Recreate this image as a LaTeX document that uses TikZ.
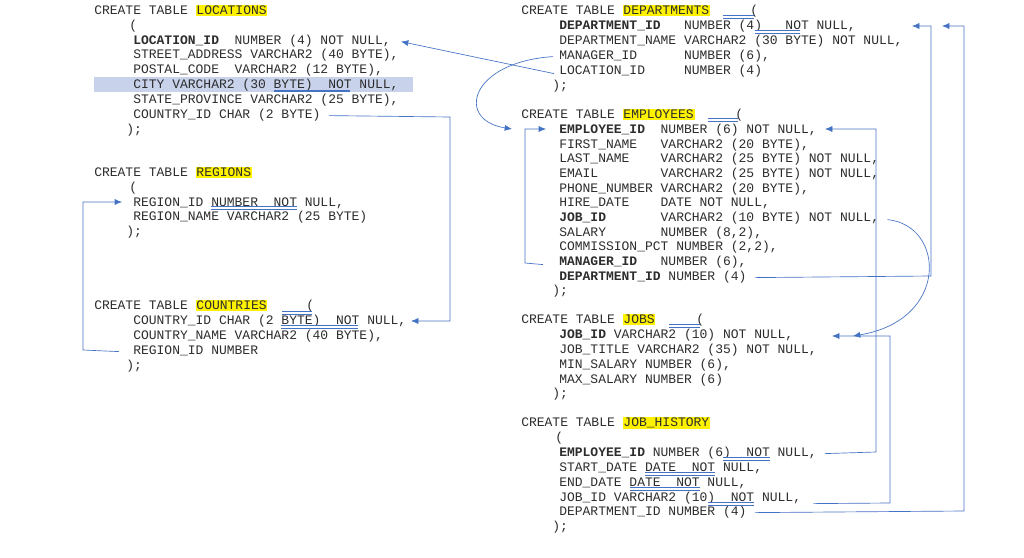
\documentclass[tikz,border=0pt]{standalone}
\usepackage{fontspec}
\setmonofont{Liberation Mono}
\usetikzlibrary{arrows.meta,calc}
\definecolor{lnk}{RGB}{68,114,196}
\definecolor{txt}{RGB}{45,45,45}
\definecolor{band}{RGB}{200,210,235}
\newcommand\hy[1]{{\setlength\fboxsep{0.6pt}\colorbox{yellow}{#1}}}
\newcommand\sqlb[1]{\textbf{#1}}
\tikzset{
 t/.style={anchor=west,inner sep=0pt,yshift=-1.2pt,text height=7pt,text depth=2pt,text=txt,font=\ttfamily\fontsize{9.75}{12}\selectfont},
 con/.style={draw=lnk,line width=0.5pt},
 arr/.style={con,-{Latex[length=5.5pt,width=4.5pt]}},
 dbl/.style={draw=lnk,line width=0.6pt,double=white,double distance=1.4pt},
}
\begin{document}
\begin{tikzpicture}[x=0.75pt,y=-0.75pt]
\useasboundingbox (0,0) rectangle (1024,557);
\fill[white] (0,0) rectangle (1024,557);
\fill[band] (94,77) rectangle (413,92);
% LOCATIONS
\node[t] (loc0) at (94,10) {CREATE~TABLE~\hy{LOCATIONS}};
\node[t] (loc1) at (129,25) {(};
\node[t] (loc2) at (133,40) {\sqlb{LOCATION\_ID}~~NUMBER~(4)~NOT~NULL,};
\node[t] (loc3) at (133,54) {STREET\_ADDRESS~VARCHAR2~(40~BYTE),};
\node[t] (loc4) at (133,69) {POSTAL\_CODE~~VARCHAR2~(12~BYTE),};
\node[t] (loc5) at (133,84) {CITY~VARCHAR2~(30~BYTE)~~NOT~NULL,};
\node[t] (loc6) at (133,99) {STATE\_PROVINCE~VARCHAR2~(25~BYTE),};
\node[t] (loc7) at (133,114) {COUNTRY\_ID~CHAR~(2~BYTE)};
\node[t] (loc8) at (126,129) {);};
% REGIONS
\node[t] (reg0) at (94,172) {CREATE~TABLE~\hy{REGIONS}};
\node[t] (reg1) at (129,187) {(};
\node[t] (reg2) at (133,202) {REGION\_ID~NUMBER~~NOT~NULL,};
\node[t] (reg3) at (133,216) {REGION\_NAME~VARCHAR2~(25~BYTE)};
\node[t] (reg4) at (126,231) {);};
% COUNTRIES
\node[t] (cou0) at (94,305) {CREATE~TABLE~\hy{COUNTRIES}};
\node[t] (cou0b) at (306,305) {(};
\node[t] (cou1) at (133,320) {COUNTRY\_ID~CHAR~(2~BYTE)~~NOT~NULL,};
\node[t] (cou2) at (133,335) {COUNTRY\_NAME~VARCHAR2~(40~BYTE),};
\node[t] (cou3) at (133,350) {REGION\_ID~NUMBER};
\node[t] (cou4) at (126,365) {);};
% DEPARTMENTS
\node[t] (dep0) at (521,10) {CREATE~TABLE~\hy{DEPARTMENTS}};
\node[t] (dep0b) at (750,10) {(};
\node[t] (dep1) at (559,25) {\sqlb{DEPARTMENT\_ID}~~~NUMBER~(4)~~~NOT~NULL,};
\node[t] (dep2) at (559,40) {DEPARTMENT\_NAME~VARCHAR2~(30~BYTE)~NOT~NULL,};
\node[t] (dep3) at (559,55) {MANAGER\_ID~~~~~~NUMBER~(6),};
\node[t] (dep4) at (559,70) {LOCATION\_ID~~~~~NUMBER~(4)};
\node[t] (dep5) at (552,85) {);};
% EMPLOYEES
\node[t] (emp0) at (521,114) {CREATE~TABLE~\hy{EMPLOYEES}};
\node[t] (emp0b) at (735,114) {(};
\node[t] (emp1) at (559,129) {\sqlb{EMPLOYEE\_ID}~~NUMBER~(6)~NOT~NULL,};
\node[t] (emp2) at (559,144) {FIRST\_NAME~~~VARCHAR2~(20~BYTE),};
\node[t] (emp3) at (559,158) {LAST\_NAME~~~~VARCHAR2~(25~BYTE)~NOT~NULL,};
\node[t] (emp4) at (559,173) {EMAIL~~~~~~~~VARCHAR2~(25~BYTE)~NOT~NULL,};
\node[t] (emp5) at (559,188) {PHONE\_NUMBER~VARCHAR2~(20~BYTE),};
\node[t] (emp6) at (559,202) {HIRE\_DATE~~~~DATE~NOT~NULL,};
\node[t] (emp7) at (559,217) {\sqlb{JOB\_ID}~~~~~~~VARCHAR2~(10~BYTE)~NOT~NULL,};
\node[t] (emp8) at (559,232) {SALARY~~~~~~~NUMBER~(8,2),};
\node[t] (emp9) at (559,246) {COMMISSION\_PCT~NUMBER~(2,2),};
\node[t] (emp10) at (559,261) {\sqlb{MANAGER\_ID}~~~NUMBER~(6),};
\node[t] (emp11) at (559,276) {\sqlb{DEPARTMENT\_ID}~NUMBER~(4)};
\node[t] (emp12) at (552,290) {);};
% JOBS
\node[t] (job0) at (521,319) {CREATE~TABLE~\hy{JOBS}};
\node[t] (job0b) at (696,319) {(};
\node[t] (job1) at (559,334) {\sqlb{JOB\_ID}~VARCHAR2~(10)~NOT~NULL,};
\node[t] (job2) at (559,349) {JOB\_TITLE~VARCHAR2~(35)~NOT~NULL,};
\node[t] (job3) at (559,364) {MIN\_SALARY~NUMBER~(6),};
\node[t] (job4) at (559,379) {MAX\_SALARY~NUMBER~(6)};
\node[t] (job5) at (552,393) {);};
% JOB_HISTORY
\node[t] (jh0) at (521,422) {CREATE~TABLE~\hy{JOB\_HISTORY}};
\node[t] (jh1) at (555,437) {(};
\node[t] (jh2) at (559,452) {\sqlb{EMPLOYEE\_ID}~NUMBER~(6)~~NOT~NULL,};
\node[t] (jh3) at (559,467) {START\_DATE~DATE~~NOT~NULL,};
\node[t] (jh4) at (559,482) {END\_DATE~DATE~~NOT~NULL,};
\node[t] (jh5) at (559,497) {JOB\_ID~VARCHAR2~(10)~~NOT~NULL,};
\node[t] (jh6) at (559,511) {DEPARTMENT\_ID~NUMBER~(4)};
\node[t] (jh7) at (552,526) {);};
% underline marks
\draw[draw=lnk,line width=0.8pt] (274,91) -- (350,91);
\foreach \a/\b/\y in {211/297/208, 282/312/313, 281/358/327, 723/754/17, 755/800/32, 708/738/120, 669/700/326, 723/770/459, 645/715/474, 630/700/489, 708/754/504}
  \draw[dbl] (\a,\y) -- (\b,\y);
% connectors
\draw[arr] ($(dep4.west)+(-5,2)$) -- ($(loc2.east)+(10,0)$);
\draw[arr] ($(dep3.west)+(-6,0)$) .. controls (470,62) and (455,120) .. (512,129);
\draw[arr] ($(emp10.west)+(-16,2)$) -- (525,263) -- (525,129) -- (546,129);
\draw[arr] ($(emp11.east)+(8,0)$) -- (931,276) -- (931,26) -- (912,26);
\draw[arr] ($(jh6.east)+(8,0)$) -- (964,511) -- (964,26) -- (942,26);
\draw[arr] ($(jh2.east)+(8,0)$) -- (876,452) -- (876,129) -- (825,129);
\draw[arr] ($(jh5.east)+(12,5)$) -- (890,503) -- (890,336) -- (832,336);
\draw[arr] ($(emp7.east)+(8,1)$) .. controls (945,225) and (950,320) .. (853,336);
\draw[arr] ($(loc7.east)+(8,0)$) -- (450,117) -- (450,321) -- (411,321);
\draw[arr] ($(cou3.west)+(-14,0)$) -- (83,350) -- (83,202) -- (122,202);
\end{tikzpicture}
\end{document}
